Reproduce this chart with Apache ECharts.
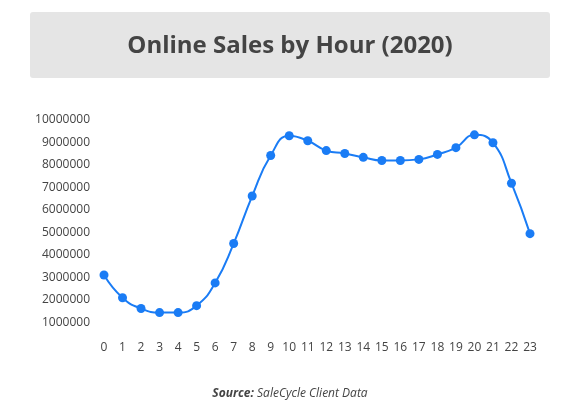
<!DOCTYPE html>
<html><head><meta charset="utf-8">
<script src="https://cdn.jsdelivr.net/npm/echarts@6/dist/echarts.min.js"></script>
<style>html,body{margin:0;padding:0;background:#fff}#c{width:580px;height:415px}</style>
</head><body><div id="c"></div>
<script>
const hours = ['0','1','2','3','4','5','6','7','8','9','10','11','12','13','14','15','16','17','18','19','20','21','22','23'];
const sales = [3110000,2100000,1620000,1440000,1440000,1750000,2760000,4510000,6620000,8420000,9300000,9080000,8640000,8510000,8340000,8200000,8200000,8250000,8470000,8770000,9340000,8990000,7190000,4950000];
const titleText = 'Online Sales by Hour (2020)';
const sourceLabel = 'Source:';
const sourceText = ' SaleCycle Client Data';
const chart = echarts.init(document.getElementById('c'));
chart.setOption({
  animation:false,
  graphic:[
    {type:'rect',shape:{x:30,y:12,width:520,height:66,r:3},style:{fill:'#e5e5e5'}},
    {type:'text',x:290,y:46,style:{text:titleText,font:'bold 24px "Open Sans"',fill:'#444',align:'center',verticalAlign:'middle'}},
    {type:'text',x:290,y:394,style:{rich:{b:{font:'italic bold 12px "Open Sans"',fill:'#444'},n:{font:'italic 12px "Open Sans"',fill:'#444'}},text:'{b|'+sourceLabel+'}{n|'+sourceText+'}',align:'center',verticalAlign:'middle'}}
  ],
  grid:{left:104,right:50,top:120,bottom:70,containLabel:false},
  xAxis:{type:'category',data:hours,boundaryGap:false,axisLine:{show:false},axisTick:{show:false},
    axisLabel:{color:'#444',fontSize:12,fontFamily:'Open Sans',margin:-3}},
  yAxis:{type:'value',min:0,max:10000000,interval:1000000,splitLine:{show:false},axisLine:{show:false},axisTick:{show:false},
    axisLabel:{color:'#444',fontSize:12,fontFamily:'Open Sans',margin:14,formatter:v=>v===0?'':String(v)}},
  series:[{type:'line',data:sales,smooth:true,symbol:'circle',symbolSize:9,
    lineStyle:{color:'#1a7cf5',width:2},itemStyle:{color:'#1a7cf5'}}]
});
</script></body></html>
